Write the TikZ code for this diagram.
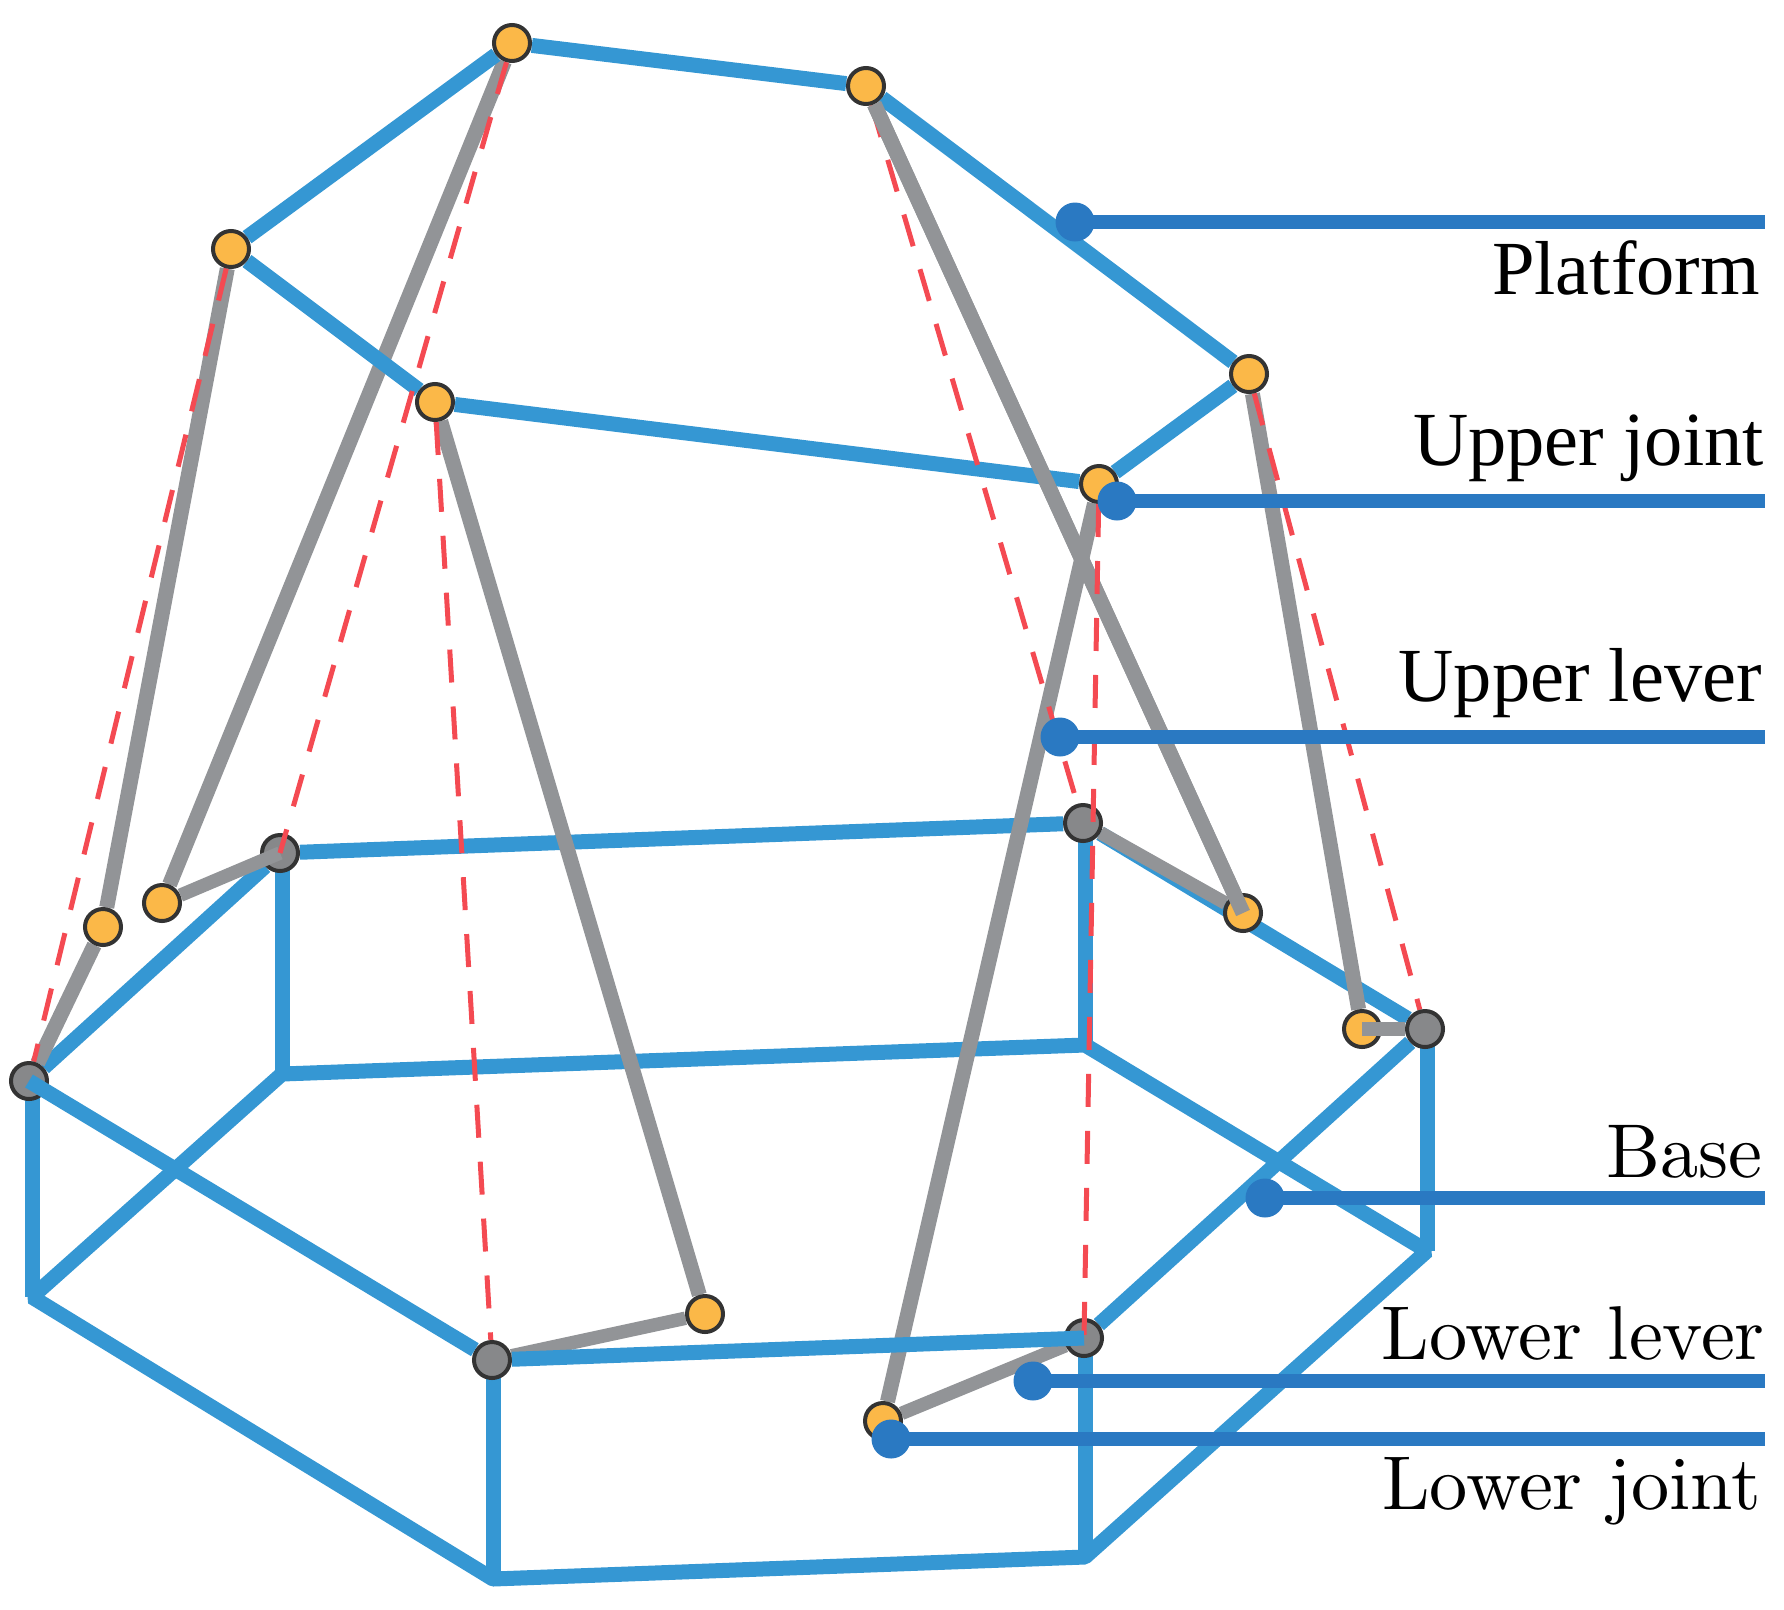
\documentclass[tikz,border=0pt]{standalone}
\usepackage{fontspec}
\newfontfamily\timesfont{Liberation Serif}
\newfontfamily\cmfont{lmroman10-regular.otf}
\definecolor{edgeblue}{HTML}{3597D3}
\definecolor{leaderblue}{HTML}{2A79C2}
\definecolor{levergray}{HTML}{929497}
\definecolor{basegray}{HTML}{87888A}
\definecolor{jointorange}{HTML}{FBB848}
\definecolor{jointline}{HTML}{333333}
\definecolor{dashred}{HTML}{F44A52}
\pgfdeclarelayer{under}
\pgfsetlayers{under,main}
\tikzset{
  edgeline/.style={draw=edgeblue, line width=15pt, line cap=butt, line join=bevel},
  lever/.style={draw=levergray, line width=15pt, line cap=butt},
  shortlever/.style={lever, line width=13.5pt},
  reach/.style={draw=dashred, line width=5pt, dash pattern=on 33pt off 24pt},
  leader/.style={draw=leaderblue, line width=14pt},
  upperj/.style={circle, draw=jointline, line width=4pt, fill=jointorange, minimum size=36pt, inner sep=0pt},
  lowerj/.style={upperj},
  basej/.style={upperj, fill=basegray},
  tagdot/.style={circle, fill=leaderblue, minimum size=39pt, inner sep=0pt},
  toplabel/.style={anchor=base east, inner sep=0pt, font=\timesfont\fontsize{76.5}{80}\selectfont},
  lowlabel/.style={anchor=base east, inner sep=0pt, font=\cmfont\fontsize{76.3}{80}\selectfont}
}
\begin{document}
\begin{tikzpicture}[x=1pt, y=-1pt]

  %% ---- corners of the lower base ring ----
  \coordinate (ba) at (32,1297);
  \coordinate (bb) at (282,1074);
  \coordinate (bc) at (1085,1045);
  \coordinate (bd) at (1427,1251);
  \coordinate (be) at (1085,1557);
  \coordinate (bf) at (493,1579);

  %% ---- joints ----
  \node[upperj] (p1) at (512,43) {};
  \node[upperj] (p2) at (866,86) {};
  \node[upperj] (p3) at (1249,374) {};
  \node[upperj] (p4) at (1099,484) {};
  \node[upperj] (p5) at (435,402) {};
  \node[upperj] (p6) at (231,249) {};

  \node[lowerj] (l1) at (162,903) {};
  \node[lowerj] (l2) at (1243,913) {};
  \node[lowerj] (l3) at (705,1314) {};
  \node[lowerj] (l4) at (883,1421) {};
  \node[lowerj] (l5) at (103,927) {};
  \node[lowerj] (l6) at (1362,1029) {};

  \node[basej] (ta) at (29,1081) {};
  \node[basej] (tb) at (280,853) {};
  \node[basej] (tc) at (1083,823) {};
  \node[basej] (td) at (1425,1029) {};
  \node[basej] (te) at (1084,1338) {};
  \node[basej] (tf) at (492,1360) {};

  %% ---- everything that passes under the joints ----
  \begin{pgfonlayer}{under}
    \draw[edgeline] (bb) -- (bc) -- (bd) -- (be) -- (bf) -- (ba) -- cycle;
    \draw[edgeline] (ta.center -| ba) -- (ba);
    \draw[edgeline] (tb.center -| bb) -- (bb);
    \draw[edgeline] (tc.center -| bc) -- (bc);
    \draw[edgeline] (td.center -| bd) -- (bd);
    \draw[edgeline] (te.center -| be) -- (be);
    \draw[edgeline] (tf.center -| bf) -- (bf);
    \draw[edgeline] (ta) -- (tb);
    \draw[edgeline] (tb) -- (tc);
    \draw[edgeline] (tc) -- (td);
    \draw[edgeline] (td) -- (te);

    \draw[lever] (p6) -- (l5);
    \draw[lever] (l5) -- (ta);
    \draw[shortlever] (l3) -- (tf);
    \draw[lever] (p5) -- (l3);
    \draw[lever] (p1) -- (l1);
    \draw[lever] (p3) -- (l6);
    \draw[lever] (p2) -- (l2);
    \draw[shortlever] (l2) -- (tc);
    \draw[lever] (p4) -- (l4);
    \draw[shortlever] (l4) -- (te);

    \draw[edgeline] (p1) -- (p2);
    \draw[edgeline] (p2) -- (p3);
    \draw[edgeline] (p3) -- (p4);
    \draw[edgeline] (p4) -- (p5);
    \draw[edgeline] (p5) -- (p6);
    \draw[edgeline] (p6) -- (p1);

    \draw[reach] (p6) -- (ta);
    \draw[reach] (p2) -- (tc);
    \draw[reach] (p3) -- (td);
    \draw[reach] (p5) -- (tf);
  \end{pgfonlayer}

  %% ---- drawn over the joints ----
  \draw[edgeline] (ta.center) -- (tf);
  \draw[shortlever] (l1) -- (tb.center);
  \draw[lever] (p2) -- (l2.center);
  \draw[shortlever] (l6.center) -- (td);
  \draw[reach] (p1) -- (tb.center);
  \draw[reach] (p4) -- (te.center);
  \draw[edgeline] (tf) -- (te.center);

  %% ---- tags ----
  \node[tagdot] (d1) at (1075,222) {};
  \node[tagdot] (d2) at (1117,501) {};
  \node[tagdot] (d3) at (1060,737) {};
  \node[tagdot] (d4) at (1265,1198) {};
  \node[tagdot] (d5) at (1033,1381) {};
  \node[tagdot] (d6) at (891,1439) {};

  \coordinate (e1) at (1765,222);
  \coordinate (e2) at (1765,501);
  \coordinate (e3) at (1765,737);
  \coordinate (e4) at (1765,1198);
  \coordinate (e5) at (1765,1381);
  \coordinate (e6) at (1765,1439);

  \draw[leader] (d1.center) -- (e1);
  \draw[leader] (d2.center) -- (e2);
  \draw[leader] (d3.center) -- (e3);
  \draw[leader] (d4.center) -- (e4);
  \draw[leader] (d5.center) -- (e5);
  \draw[leader] (d6.center) -- (e6);

  \node[toplabel] (t1) at (1760,294) {Platform};
  \node[toplabel] (t2) at (1764,465) {Upper joint};
  \node[toplabel] (t3) at (1762,701) {Upper lever};
  \node[lowlabel] (t4) at (1763,1177) {Base};
  \node[lowlabel] (t5) at (1765,1359) {Lower lever};
  \node[lowlabel] (t6) at (1761,1509) {Lower joint};

  \path[use as bounding box] (0,0) rectangle (1784,1609);
\end{tikzpicture}
\end{document}
